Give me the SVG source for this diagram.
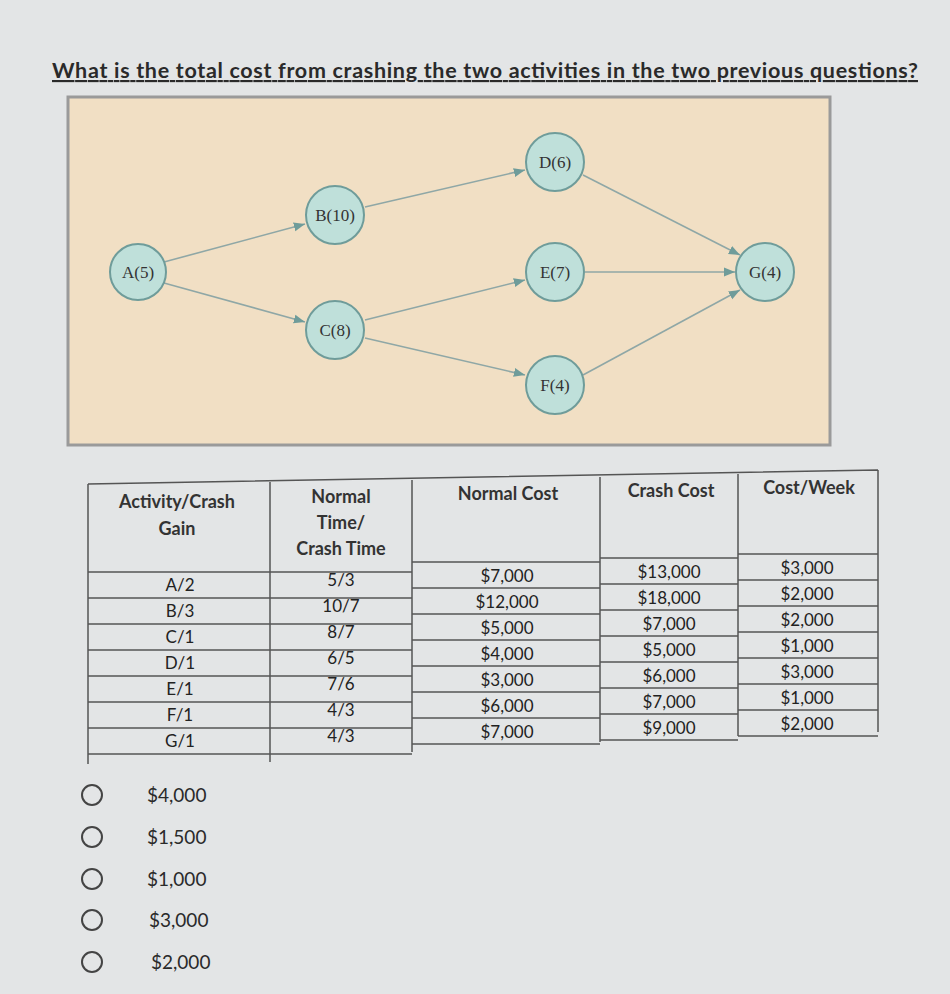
<svg xmlns="http://www.w3.org/2000/svg" width="950" height="994" viewBox="0 0 950 994">
<defs>
<marker id="ah" viewBox="0 0 10 10" refX="10" refY="5" markerWidth="7" markerHeight="7" orient="auto"><path d="M0,1 L10,5 L0,9 Z" fill="#6f9c9a"/></marker>
<style>
.t{font-family:"Lato","Liberation Sans",sans-serif;fill:#2a2a2a}
.n circle{fill:#bfe0da;stroke:#6f9c9a;stroke-width:2}
.n text{font-family:"Liberation Serif",serif;font-size:17px;fill:#333;text-anchor:middle}
.e{stroke:#8fa7a6;stroke-width:1.6;fill:none;marker-end:url(#ah)}
.g{stroke:#555;stroke-width:1.5;fill:none}
.c{font-family:"Lato","Liberation Sans",sans-serif;font-size:17px;fill:#222;text-anchor:middle}
.h{font-family:"Lato","Liberation Sans",sans-serif;font-size:18px;font-weight:bold;fill:#333;text-anchor:middle}
.r{fill:none;stroke:#444;stroke-width:2}
</style>
</defs>
<rect width="950" height="994" fill="#e3e5e6"/>
<text class="t" x="52" y="78" font-size="21.5" font-weight="bold" fill="#333" text-decoration="underline" textLength="866">What is the total cost from crashing the two activities in the two previous questions?</text>
<rect x="68" y="97" width="762" height="348" fill="#f1dfc4" stroke="#9a9a9a" stroke-width="3"/>
<g id="edges">
<line class="e" x1="164" y1="262" x2="305" y2="224"/>
<line class="e" x1="164" y1="283" x2="305" y2="322"/>
<line class="e" x1="365" y1="207" x2="525" y2="170"/>
<line class="e" x1="365" y1="338" x2="525" y2="375"/>
<line class="e" x1="365" y1="320" x2="525" y2="280"/>
<line class="e" x1="585" y1="272" x2="735" y2="272"/>
<line class="e" x1="583" y1="175" x2="740" y2="255"/>
<line class="e" x1="583" y1="375" x2="740" y2="290"/>
</g>
<g id="A" class="n"><circle cx="138" cy="272" r="28"/><text x="138" y="278">A(5)</text></g>
<g id="B" class="n"><circle cx="335" cy="215" r="29"/><text x="335" y="221">B(10)</text></g>
<g id="C" class="n"><circle cx="335" cy="330" r="29"/><text x="335" y="336">C(8)</text></g>
<g id="D" class="n"><circle cx="555" cy="162" r="29"/><text x="555" y="168">D(6)</text></g>
<g id="E" class="n"><circle cx="555" cy="272" r="29"/><text x="555" y="278">E(7)</text></g>
<g id="F" class="n"><circle cx="555" cy="385" r="29"/><text x="555" y="391">F(4)</text></g>
<g id="G" class="n"><circle cx="765" cy="272" r="29"/><text x="765" y="278">G(4)</text></g>
<g id="table">
<path class="g" d="M88 484 L878 470 M88 484 V764 M270 482 V762 M412 480 V752 M600 477 V742 M738 474 V736 M878 470 V732"/>
<path class="g" d="M88 572 H412 M88 598 H412 M88 624 H412 M88 650 H412 M88 676 H412 M88 702 H412 M88 728 H412 M88 754 H412"/>
<path class="g" d="M412 562 H600 M412 588 H600 M412 614 H600 M412 640 H600 M412 666 H600 M412 692 H600 M412 718 H600 M412 744 H600"/>
<path class="g" d="M600 558 H738 M600 584 H738 M600 610 H738 M600 636 H738 M600 662 H738 M600 688 H738 M600 714 H738 M600 740 H738"/>
<path class="g" d="M738 554 H878 M738 580 H878 M738 606 H878 M738 632 H878 M738 658 H878 M738 684 H878 M738 710 H878 M738 736 H878"/>
<text class="h" x="177" y="508">Activity/Crash</text><text class="h" x="177" y="535">Gain</text>
<text class="h" x="341" y="503">Normal</text><text class="h" x="341" y="529">Time/</text><text class="h" x="341" y="555">Crash Time</text>
<text class="h" x="508" y="500">Normal Cost</text>
<text class="h" x="671" y="497">Crash Cost</text>
<text class="h" x="809" y="494">Cost/Week</text>
<g class="c">
<text x="180" y="591">A/2</text><text x="180" y="617">B/3</text><text x="180" y="643">C/1</text><text x="180" y="669">D/1</text><text x="180" y="695">E/1</text><text x="180" y="721">F/1</text><text x="180" y="747">G/1</text>
<text x="341" y="586">5/3</text><text x="341" y="612">10/7</text><text x="341" y="638">8/7</text><text x="341" y="664">6/5</text><text x="341" y="690">7/6</text><text x="341" y="716">4/3</text><text x="341" y="742">4/3</text>
<text x="507" y="582">$7,000</text><text x="507" y="608">$12,000</text><text x="507" y="634">$5,000</text><text x="507" y="660">$4,000</text><text x="507" y="686">$3,000</text><text x="507" y="712">$6,000</text><text x="507" y="738">$7,000</text>
<text x="669" y="578">$13,000</text><text x="669" y="604">$18,000</text><text x="669" y="630">$7,000</text><text x="669" y="656">$5,000</text><text x="669" y="682">$6,000</text><text x="669" y="708">$7,000</text><text x="669" y="734">$9,000</text>
<text x="807" y="574">$3,000</text><text x="807" y="600">$2,000</text><text x="807" y="626">$2,000</text><text x="807" y="652">$1,000</text><text x="807" y="678">$3,000</text><text x="807" y="704">$1,000</text><text x="807" y="730">$2,000</text>
</g>
</g>
<g id="options">
<circle class="r" cx="92" cy="795" r="10"/><text class="t" x="147" y="802" font-size="19">$4,000</text>
<circle class="r" cx="92" cy="837" r="10"/><text class="t" x="147" y="844" font-size="19">$1,500</text>
<circle class="r" cx="92" cy="879" r="10"/><text class="t" x="147" y="886" font-size="19">$1,000</text>
<circle class="r" cx="92" cy="920" r="10"/><text class="t" x="149" y="927" font-size="19">$3,000</text>
<circle class="r" cx="92" cy="962" r="10"/><text class="t" x="151" y="969" font-size="19">$2,000</text>
</g>
</svg>
